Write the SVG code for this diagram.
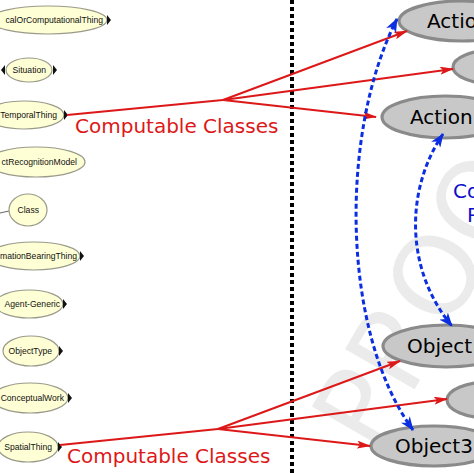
<svg xmlns="http://www.w3.org/2000/svg" width="474" height="474" viewBox="0 0 474 474">
<style>
.cn{fill:#ffffd6;stroke:#9a9a8a;stroke-width:1.2}
.ct{font-family:"Liberation Sans",Arial,sans-serif;font-size:8.6px;fill:#111;text-anchor:end}
.tab{fill:#111}
.rn{fill:#c8c8c8;stroke:#8a8a8a;stroke-width:3.2}
.rt{font-family:"DejaVu Sans",sans-serif;font-size:20px;fill:#000}
.red{fill:none;stroke:#dd1818;stroke-width:2}
.blue{fill:none;stroke:#0a2ee0;stroke-width:3;stroke-dasharray:5 3}
.lab{font-family:"DejaVu Sans",sans-serif;font-size:20px;fill:#dd1818}
.blab{font-family:"DejaVu Sans",sans-serif;font-size:20px;fill:#1010cc}
.wm{font-family:"DejaVu Sans",sans-serif;font-size:110px;fill:#ebebeb}
</style>
<defs>
<marker id="ar" viewBox="0 0 14 8" refX="13" refY="4" markerWidth="14" markerHeight="8" markerUnits="userSpaceOnUse" orient="auto"><path d="M0,0 L14,4 L0,8 L3,4 z" fill="#dd1818"/></marker>
<marker id="ab" viewBox="0 0 14 11" refX="13" refY="5.5" markerWidth="14" markerHeight="11" markerUnits="userSpaceOnUse" orient="auto-start-reverse"><path d="M0,0 L14,5.5 L0,11 L4,5.5 z" fill="#0a2ee0"/></marker>
</defs>
<rect width="474" height="474" fill="#fff"/>
<text class="wm" transform="translate(376 456) rotate(-60)">PROO</text>
<line x1="292" y1="0" x2="292" y2="474" stroke="#000" stroke-width="4" stroke-dasharray="4 3"/>

<g id="c1"><ellipse class="cn" cx="48" cy="20" rx="59" ry="14"/><text class="ct" x="103" y="23">calOrComputationalThing</text><path class="tab" d="M107,15 L111,20 L107,25 z"/></g>
<g id="c2"><ellipse class="cn" cx="29" cy="70" rx="23" ry="12"/><text class="ct" x="46" y="73">Situation</text><path class="tab" d="M5,65 L1,70 L5,75 z M53,65 L57,70 L53,75 z"/></g>
<g id="c3"><ellipse class="cn" cx="24" cy="115" rx="40" ry="14"/><text class="ct" x="57" y="118">TemporalThing</text><path class="tab" d="M64,110 L68,115 L64,120 z"/></g>
<g id="c4"><ellipse class="cn" cx="36" cy="162" rx="49" ry="15"/><text class="ct" x="77" y="165">ctRecognitionModel</text></g>
<g id="c5"><line x1="0" y1="213" x2="9" y2="211" stroke="#666" stroke-width="1"/><ellipse class="cn" cx="28" cy="210" rx="19" ry="16"/><text class="ct" x="39" y="213">Class</text></g>
<g id="c6"><ellipse class="cn" cx="34" cy="256" rx="46" ry="14"/><text class="ct" x="77" y="259">mationBearingThing</text><path class="tab" d="M80,251 L84,256 L80,261 z"/></g>
<g id="c7"><ellipse class="cn" cx="29" cy="304" rx="34" ry="14"/><text class="ct" x="60" y="307">Agent-Generic</text><path class="tab" d="M63,299 L67,304 L63,309 z"/></g>
<g id="c8"><ellipse class="cn" cx="31" cy="351" rx="28" ry="15"/><text class="ct" x="52" y="354">ObjectType</text><path class="tab" d="M59,346 L63,351 L59,356 z"/></g>
<g id="c9"><ellipse class="cn" cx="30" cy="398" rx="38" ry="15"/><text class="ct" x="64" y="401">ConceptualWork</text><path class="tab" d="M68,393 L72,398 L68,403 z"/></g>
<g id="c10"><ellipse class="cn" cx="28" cy="447" rx="30" ry="15"/><text class="ct" x="52" y="450">SpatialThing</text><path class="tab" d="M58,442 L62,447 L58,452 z"/></g>

<g id="r1"><ellipse class="rn" cx="462" cy="21" rx="63" ry="20"/><text class="rt" x="427" y="28">Actio</text></g>
<g id="r2"><ellipse class="rn" cx="495" cy="67" rx="42" ry="17"/></g>
<g id="r3"><ellipse class="rn" cx="445" cy="117" rx="63" ry="21"/><text class="rt" x="410" y="124">Action</text></g>
<g id="r4"><ellipse class="rn" cx="446" cy="346" rx="63" ry="21"/><text class="rt" x="407" y="353">Object</text></g>
<g id="r5"><ellipse class="rn" cx="489" cy="400" rx="42" ry="18"/></g>
<g id="r6"><ellipse class="rn" cx="434" cy="446" rx="63" ry="20"/><text class="rt" x="395" y="453">Object3</text></g>

<g id="connectors">
<path class="red" d="M67,115 L223,100"/>
<path class="red" d="M223,100 L407,31" marker-end="url(#ar)"/>
<path class="red" d="M223,100 L453,69" marker-end="url(#ar)"/>
<path class="red" d="M223,100 L376,117" marker-end="url(#ar)"/>
<path class="red" d="M60,445 L218,429"/>
<path class="red" d="M218,429 L400,361" marker-end="url(#ar)"/>
<path class="red" d="M218,429 L447,399" marker-end="url(#ar)"/>
<path class="red" d="M218,429 L370,446" marker-end="url(#ar)"/>
<path class="blue" d="M413,430 C340,330 340,130 397,19" marker-start="url(#ab)" marker-end="url(#ab)"/>
<path class="blue" d="M443,134 C405,190 405,270 452,326" marker-start="url(#ab)" marker-end="url(#ab)"/>
</g>
<text class="lab" x="75" y="133">Computable Classes</text>
<text class="lab" x="67" y="463">Computable Classes</text>
<text class="blab" x="453" y="198">Co</text>
<text class="blab" x="467" y="222">P</text>
</svg>
